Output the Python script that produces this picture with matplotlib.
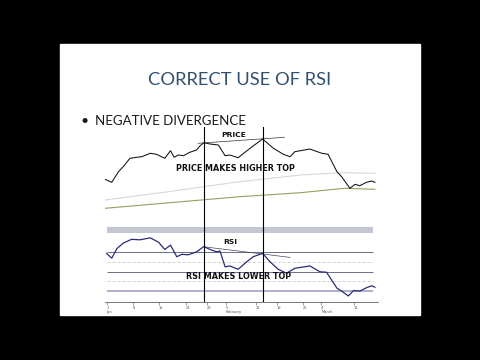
import matplotlib
matplotlib.use("Agg")
import matplotlib.pyplot as plt
from matplotlib.patches import Rectangle

# Price (index units) by trading day
price_days = [0, 1.3, 2.6, 3.5, 4.8, 6.1, 7.1, 8.7, 9.9, 11.5, 12.6, 13.3, 14.1, 15.1,
              16.3, 17.6, 18.3, 19.0, 20.2, 21.8, 23.1, 24.0, 25.6, 27.9, 30.3, 32.4,
              34.3, 35.6, 36.5, 39.4, 41.7, 42.9, 44.6, 45.5, 47.1, 48.1, 49.0, 50.3,
              51.3, 51.9]
price = [42.7, 39.7, 50.3, 55.3, 63.7, 64.7, 65.3, 68.7, 67.7, 63.7, 71.3, 64.7, 67, 66.3,
         69.7, 72, 76.3, 79.3, 78, 77, 66.3, 67, 64.3, 73.7, 83, 73.7,
         67.7, 65.3, 70.3, 73, 68.7, 67.7, 50.3, 45.3, 33.7, 37.7, 36.3, 39.7,
         41, 39.7]

# moving averages
ma_slow_days = [0, 12.5, 25.9, 37.6, 46, 51.9]
ma_slow = [22, 30.5, 40.3, 47, 49.3, 48.7]
ma_long_days = [0, 25.9, 37.6, 46, 51.9]
ma_long = [13.7, 25.3, 29.3, 33.7, 32.7]

# RSI by trading day
rsi_days = [0.3, 1.3, 2.3, 3.5, 5.1, 6.7, 8.7, 10.3, 11.5, 12.6, 13.8, 14.8, 16.0, 17.6,
            19.0, 20.2, 21.5, 22.1, 23.1, 24.0, 25.6, 27.3, 28.5, 30.3, 31.7, 33.3,
            34.9, 36.5, 39.4, 41.3, 42.6, 44.6, 45.5, 46.8, 47.8, 49.0, 50.3, 51.3, 51.9]
rsi = [69, 64, 74, 79.5, 83.5, 83, 85, 80.5, 73, 77.5, 65.5, 68, 67.5, 70.5,
       76, 73, 70.5, 71.5, 55, 56, 52.5, 60.5, 65.5, 69, 60.5, 52.5,
       48.5, 53.5, 56, 50, 49.5, 33, 30, 25, 30.5, 30, 33.5, 35.5, 34]

# the two tops
top_days = [19.0, 30.3]
price_trend_days = [17.9, 34.5]
price_trend = [78.7, 84.7]
rsi_trend_days = [19.0, 35.6]
rsi_trend = [75.8, 64.8]

tick_days = [0.3, 5.3, 10.4, 15.6, 19.6, 23.3, 29.0, 33.0, 38.1, 41.5, 47.9]
tick_labels = ["1", "8", "15", "22", "29", "5", "12", "19", "26", "4", "11"]

W, H = 480, 360


def fx(px):
    return px / W


def fy(py):
    return 1 - py / H


fig = plt.figure(figsize=(4.8, 3.6), dpi=100, facecolor="black")
fig.patches.append(Rectangle((fx(60), fy(315)), 360 / W, 271 / H,
                             transform=fig.transFigure, color="white", zorder=-5))

fig.text(fx(240), fy(85), "CORRECT USE OF RSI", ha="center", va="baseline",
         fontsize=13.2, color="#34506f", family="Lato")
fig.text(fx(80), fy(125), "•", ha="left", va="baseline", fontsize=10,
         color="#1a1a1a", family="Lato")
fig.text(fx(95), fy(125), "NEGATIVE DIVERGENCE", ha="left", va="baseline",
         fontsize=9.5, color="#1a1a1a", family="Lato")

# price panel
ax1 = fig.add_axes([fx(105), fy(225), 273 / W, 98 / H])
ax1.set_xlim(0, 52.5)
ax1.set_ylim(-3, 95)
ax1.axis("off")
ax1.plot(ma_slow_days, ma_slow, color="#d8d8d8", lw=0.8)
ax1.plot(ma_long_days, ma_long, color="#9c9c62", lw=0.8)
ax1.plot(price_days, price, color="#111111", lw=0.75)
ax1.plot(price_trend_days, price_trend, color="#333333", lw=0.5)
for d in top_days:
    ax1.axvline(d, ymin=0, ymax=(95 + 3) / 98, color="black", lw=0.8)

# rsi panel
ax2 = fig.add_axes([fx(105), fy(302.3), 273 / W, 77.3 / H])
ax2.patch.set_alpha(0)
ax2.set_xlim(0, 52.5)
ax2.set_ylim(18.4, 98.3)
for s in ["top", "left", "right"]:
    ax2.spines[s].set_visible(False)
ax2.spines["bottom"].set_linewidth(0.5)
ax2.spines["bottom"].set_color("#444444")
ax2.set_yticks([])
ax2.fill_between([0.3, 51.6], 90.3, 96.5, color="#c4c7d3", lw=0)
ax2.hlines([70, 50], 0.3, 51.6, color="#56567e", lw=0.6)
ax2.hlines([60, 40], 0.3, 51.6, color="#cfcfcf", lw=0.6, linestyles=(0, (4, 2)))
ax2.hlines([30], 0.3, 51.6, color="#a9a9c9", lw=1.3)
ax2.plot(rsi_days, rsi, color="#2b2b7a", lw=0.9)
ax2.plot(rsi_trend_days, rsi_trend, color="#44445a", lw=0.5)
for d in top_days:
    ax2.axvline(d, color="black", lw=0.8)
ax2.set_xticks(tick_days)
ax2.set_xticklabels(tick_labels, fontsize=2.6, color="#555555")
ax2.tick_params(axis="x", length=2.5, width=0.4, pad=0.2, color="#555555")
for lab in ax2.get_xticklabels():
    lab.set_horizontalalignment("left")

for x, t in [(106, "Jan"), (226, "February"), (322, "March")]:
    fig.text(fx(x), fy(313), t, fontsize=2.6, color="#555555", ha="left", va="baseline")

# annotations
lbl = dict(ha="center", va="center", fontweight="heavy", color="#111111",
           family="DejaVu Sans")
fig.text(fx(234), fy(135), "PRICE", fontsize=5.4, **lbl)
fig.text(fx(235), fy(168.3), "PRICE MAKES HIGHER TOP", fontsize=5.8, **lbl)
fig.text(fx(230), fy(241.7), "RSI", fontsize=5.4, **lbl)
fig.text(fx(239), fy(276.7), "RSI MAKES LOWER TOP", fontsize=5.8, **lbl)

fig.savefig("out.png", dpi=100, facecolor="black")
